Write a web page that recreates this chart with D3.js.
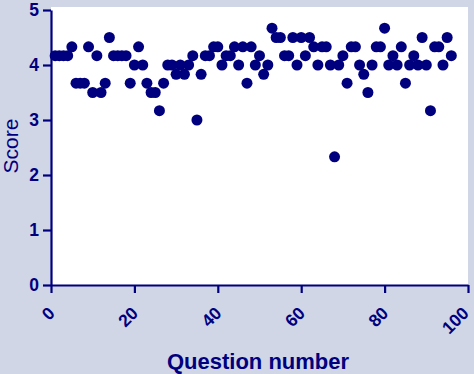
<!DOCTYPE html>
<html>
<head>
<meta charset="utf-8">
<script src="https://cdn.jsdelivr.net/npm/d3@7"></script>
<style>
  body { margin: 0; background: #d0d6e5; }
  svg { display: block; }
</style>
</head>
<body>
<svg></svg>
<script>
// question numbers 1..96 and their mean scores
var questions = d3.range(1, 97);
var scores = [
    4.17, 4.17, 4.17, 4.17, 4.33, 3.67, 3.67, 3.67, 4.33, 3.5,
    4.17, 3.5, 3.67, 4.5, 4.17, 4.17, 4.17, 4.17, 3.67, 4.0,
    4.33, 4.0, 3.67, 3.5, 3.5, 3.17, 3.67, 4.0, 4.0, 3.83,
    4.0, 3.83, 4.0, 4.17, 3.0, 3.83, 4.17, 4.17, 4.33, 4.33,
    4.0, 4.17, 4.17, 4.33, 4.0, 4.33, 3.67, 4.33, 4.0, 4.17,
    3.83, 4.0, 4.67, 4.5, 4.5, 4.17, 4.17, 4.5, 4.0, 4.5,
    4.17, 4.5, 4.33, 4.0, 4.33, 4.33, 4.0, 2.33, 4.0, 4.17,
    3.67, 4.33, 4.33, 4.0, 3.83, 3.5, 4.0, 4.33, 4.33, 4.67,
    4.0, 4.17, 4.0, 4.33, 3.67, 4.0, 4.17, 4.0, 4.5, 4.0,
    3.17, 4.33, 4.33, 4.0, 4.5, 4.17
];
var xTicks = [0, 20, 40, 60, 80, 100];
var yTicks = [0, 1, 2, 3, 4, 5];

var width = 474;
var height = 374;
var navy = "#00007f";

var svg = d3.select("svg")
    .attr("width", width)
    .attr("height", height);

var x = d3.scaleLinear().domain([0, 100]).range([51, 468]);
var y = d3.scaleLinear().domain([0, 5]).range([285, 10]);

// white plot area
svg.append("rect")
    .attr("x", 51).attr("y", 7)
    .attr("width", 417).attr("height", 278)
    .attr("fill", "#fff");

var data = questions.map(function(q, i) { return { q: q, s: scores[i] }; });

svg.append("g").selectAll("circle")
    .data(data)
    .enter().append("circle")
    .attr("cx", d => x(d.q))
    .attr("cy", d => y(d.s))
    .attr("r", 5.5)
    .attr("fill", navy);

// axes
var xAxis = svg.append("g")
    .attr("transform", "translate(0,285)")
    .call(d3.axisBottom(x).tickValues(xTicks).tickFormat(d3.format("d")).tickSize(8).tickSizeOuter(0));

// rotated labels; last one nudged in so it stays inside the window
xAxis.selectAll("text")
    .attr("y", 0).attr("x", 0).attr("dy", "0.35em")
    .attr("transform", d => d == 100 ? "translate(-3,25) rotate(-45)" : "translate(0,25) rotate(-45)")
    .style("text-anchor", "end");

var yAxis = svg.append("g")
    .attr("transform", "translate(51,0)")
    .call(d3.axisLeft(y).tickValues(yTicks).tickFormat(d3.format("d")).tickSize(8).tickSizeOuter(0).tickPadding(4));

svg.selectAll(".domain, .tick line")
    .attr("stroke", navy)
    .attr("stroke-width", 2.2);

svg.selectAll(".tick text")
    .attr("fill", navy)
    .style("font-family", "Liberation Sans, Arial, sans-serif")
    .style("font-size", "17.5px")
    .style("font-weight", "bold");

// axis titles
svg.append("text")
    .attr("x", 258).attr("y", 369)
    .attr("text-anchor", "middle")
    .attr("fill", navy)
    .style("font-family", "Liberation Sans, Arial, sans-serif")
    .style("font-size", "22px")
    .style("font-weight", "bold")
    .text("Question number");

svg.append("text")
    .attr("transform", "translate(18,146) rotate(-90)")
    .attr("text-anchor", "middle")
    .attr("fill", navy)
    .style("font-family", "Liberation Sans, Arial, sans-serif")
    .style("font-size", "21px")
    .text("Score");
</script>
</body>
</html>
